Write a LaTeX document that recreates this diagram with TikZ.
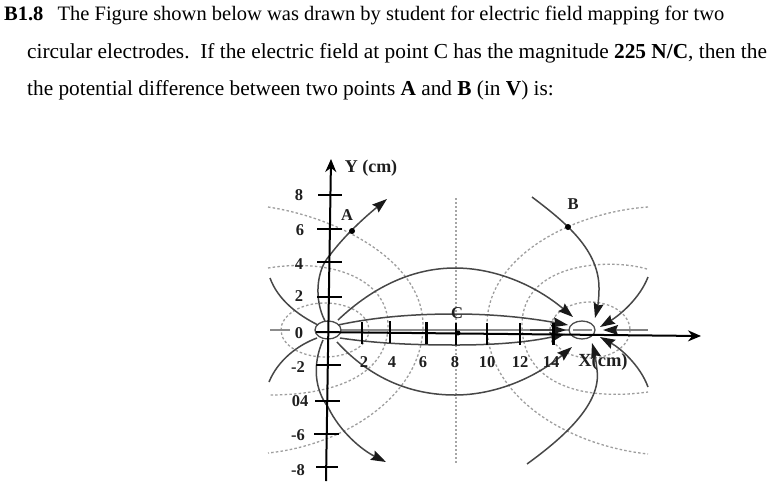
\documentclass[tikz,border=0pt]{standalone}
\usepackage{fontspec}
\setmainfont{Liberation Serif}
\usetikzlibrary{arrows.meta,shapes.geometric}
\tikzset{
  para/.style={anchor=base west,inner sep=0pt},
  lab/.style={inner sep=0pt,font=\fontsize{16.5}{17}\selectfont\bfseries,text=black!88},
  fline/.style={draw=black!72,line width=1.5pt},
  farrow/.style={fline,-{Stealth[length=15pt,width=10pt,inset=2pt,black!90]}},
  equi/.style={draw=black!38,line width=1.3pt,dash pattern=on 2.5pt off 2.2pt},
  vdots/.style={draw=black!35,line width=1.3pt,dash pattern=on 1.5pt off 2.5pt},
  axisline/.style={draw=black,line width=2pt},
  tickm/.style={draw=black,line width=2pt},
  tickx/.style={draw=black,line width=2.2pt},
}
\begin{document}
\begin{tikzpicture}[x=1pt,y=-1pt]
\useasboundingbox (0,0) rectangle (771,488);
\fill[white] (0,0) rectangle (771,488);
% text
\node[para,font=\fontsize{20.5}{22}\selectfont] (l1) at (4,20) {\textbf{B1.8}\hspace{9pt} The Figure shown below was drawn by student for electric field mapping for two};
\node[para,font=\fontsize{21.35}{22}\selectfont] (l2) at (27,58) {circular electrodes.\ \ If the electric field at point C has the magnitude \textbf{225 N/C}, then the};
\node[para,font=\fontsize{21.3}{22}\selectfont] (l3) at (27,95) {the potential difference between two points \textbf{A} and \textbf{B} (in \textbf{V}) is:};
% equipotentials
\draw[vdots] (456,198) -- (456,325);
\draw[vdots] (456,345) -- (456,465);
\draw[equi] (268,207) .. controls (340,218) and (423,262) .. (423,325) .. controls (423,395) and (345,445) .. (268,453);
\draw[equi] (268,268) .. controls (330,258) and (388,278) .. (388,325) .. controls (388,375) and (335,395) .. (270,395);
\draw[equi] (325,330) ellipse [x radius=44,y radius=27];
\draw[equi] (648,207) .. controls (575,212) and (487,255) .. (487,325) .. controls (487,395) and (565,445) .. (648,454);
\draw[equi] (647,269) .. controls (610,258) and (522,262) .. (522,325) .. controls (522,380) and (575,402) .. (648,392);
\draw[equi] (590,330) ellipse [x radius=40,y radius=28];
\draw[black!45,line width=1.2pt] (270,330) -- (290,330);
\draw[black!45,line width=1.2pt] (340,330) -- (570,330);
% electrodes
\node[draw=black!70,line width=1.3pt,ellipse,minimum width=26pt,minimum height=18pt,inner sep=0pt] (eL) at (328,330) {};
\node[draw=black!70,fill=white,line width=1.3pt,ellipse,minimum width=26pt,minimum height=18pt,inner sep=0pt] (eR) at (582,330) {};
\draw[black!45,line width=1.2pt] (573,330) -- (592,330);
% field lines
\draw[farrow] (338,320) .. controls (375,285) and (415,268) .. (455,268) .. controls (495,268) and (535,285) .. (573,317);
\draw[farrow] (337,342) .. controls (370,378) and (410,395) .. (455,395) .. controls (495,395) and (535,378) .. (572,347);
\draw[farrow] (338,325) .. controls (380,316) and (420,314) .. (455,314) .. controls (495,314) and (530,318) .. (568,325);
\draw[farrow] (340,338) .. controls (380,344) and (420,345) .. (457,345) .. controls (495,345) and (530,342) .. (565,334);
\draw[farrow] (530,330) -- (566,330);
\draw[farrow] (325,321) .. controls (314,300) and (316,270) .. (330,255) .. controls (345,235) and (365,217) .. (387,199);
\draw[fline] (270,278) .. controls (278,300) and (298,315) .. (318,325);
\draw[fline] (269,382) .. controls (278,360) and (298,345) .. (317,338);
\draw[farrow] (323,340) .. controls (312,365) and (315,390) .. (328,407) .. controls (340,432) and (362,450) .. (386,462);
\draw[farrow] (532,197) .. controls (565,222) and (600,250) .. (599,290) .. controls (599,300) and (597,310) .. (595,318);
\draw[farrow] (648,277) .. controls (640,298) and (620,315) .. (600,327);
\draw[farrow,draw=black!50] (648,330) -- (603,330);
\draw[farrow] (648,387) .. controls (640,365) and (620,348) .. (600,337);
\draw[farrow] (527,464) .. controls (560,440) and (602,405) .. (597,370) .. controls (596,360) and (594,350) .. (592,343);
% axes
\coordinate (xs) at (316,332);
\coordinate (xe) at (701,336);
\coordinate (ys) at (326,481);
\coordinate (ye) at (331,159);
\draw[axisline,-{Stealth[length=13pt,width=11pt]}] (xs) -- (xe);
\draw[axisline,-{Stealth[length=13pt,width=11pt]}] (ys) -- (ye);
% y ticks
\draw[tickm] (318,195) -- (342,195);
\draw[tickm] (317,229) -- (342,229);
\draw[tickm] (317,262) -- (342,262);
\draw[tickm] (317,297) -- (342,297);
\draw[tickm] (316,365) -- (341,365);
\draw[tickm] (315,401) -- (340,401);
\draw[tickm] (314,434) -- (339,434);
\draw[tickm] (316,467) -- (338,467);
% x ticks
\draw[tickx] (362,322) -- (362,344);
\draw[tickx] (390,321) -- (390,343);
\draw[tickx,line width=3pt] (426,322) -- (426,344);
\draw[tickx] (456,323) -- (456,345);
\draw[tickx] (487,323) -- (487,345);
\draw[tickx,line width=2.6pt] (520,323) -- (520,345);
\draw[tickx,line width=3pt] (553,323) -- (553,345);
% points
\fill[black] (352,231) circle (3pt);
\fill[black] (568,227) circle (3pt);
\fill[black] (458,333) circle (2.5pt);
% labels
\node[lab] (n8) at (299,195) {8};
\node[lab] (n6) at (300,230) {6};
\node[lab] (n4) at (299,264) {4};
\node[lab] (n2) at (299,296) {2};
\node[lab] (n0) at (299,333) {0};
\node[lab] (nm2) at (298,367) {-2};
\node[lab] (nm4) at (300,401) {04};
\node[lab] (nm6) at (298,435) {-6};
\node[lab] (nm8) at (298,470) {-8};
\node[lab] (x2) at (364,362) {2};
\node[lab] (x4) at (392,362) {4};
\node[lab] (x6) at (423,362) {6};
\node[lab] (x8) at (455,362) {8};
\node[lab] (x10) at (487,362) {10};
\node[lab] (x12) at (520,362) {12};
\node[lab] (x14) at (551,362) {14};
\node[lab,font=\fontsize{18.5}{19}\selectfont\bfseries] (xl) at (603,362) {X(cm)};
\node[lab,font=\fontsize{18}{19}\selectfont\bfseries] (yl) at (371,168) {Y (cm)};
\node[lab] (pA) at (347,215) {A};
\node[lab] (pB) at (573,204) {B};
\node[lab] (pC) at (457,313) {C};
\end{tikzpicture}
\end{document}
